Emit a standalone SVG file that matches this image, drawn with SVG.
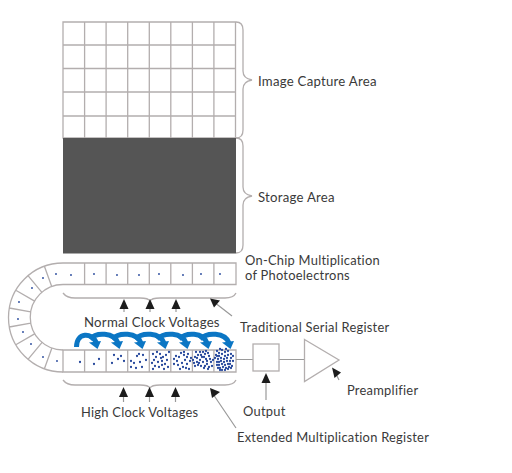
<svg xmlns="http://www.w3.org/2000/svg" width="512" height="473" viewBox="0 0 512 473">
<style>
.g{fill:none;stroke:#b3aeae;stroke-width:1.3}
.l{fill:none;stroke:#9a9a9a;stroke-width:1.2}
.k{fill:#1c1c1c}
.d{fill:none;stroke:#2b4c9e;stroke-width:2.3;stroke-linecap:round}
.b{fill:none;stroke:#0b76c4;stroke-width:5}
.h{fill:#0b76c4}
text{font-family:Lato,"Open Sans",sans-serif;font-size:12.9px;fill:#3a3a3a;letter-spacing:.25px}
</style>
<defs>
<path id="a" d="M0 0L-4.500 10H4.500Z" class="k"/>
</defs>
<rect width="512" height="473" fill="#fff"/>
<g id="image-capture-area">
<path class="g" d="M63 22H235.500V138H63ZM84.600 22V138M106.100 22V138M127.700 22V138M149.300 22V138M170.800 22V138M192.400 22V138M213.900 22V138M63 45H235.500M63 68.500H235.500M63 92H235.500M63 116H235.500"/>
<path class="g" d="M236 22C241 22 243 25 243 30V71C243 76 246 79 252 80C246 81 243 84 243 89V130C243 135 241 138 236 138"/>
<text x="258" y="86" style="font-size:13.2px">Image Capture Area</text>
</g>
<g id="storage-area">
<rect x="63" y="138" width="173" height="115.500" fill="#555"/>
<path class="g" d="M236 138C241 138 243 141 243 146V187C243 192 246 195 252 196C246 197 243 200 243 205V245C243 250 241 253 236 253"/>
<text x="258" y="202" style="font-size:13.2px">Storage Area</text>
</g>
<g id="multiplication-register">
<path class="g" d="M63 263H236V284.500H63M84.600 263V284.500M106.100 263V284.500M127.700 263V284.500M149.300 263V284.500M170.800 263V284.500M192.400 263V284.500M213.900 263V284.500"/>
<path class="g" d="M63 263A54.500 54.500 0 0 0 63 372M63 284.500A32.750 32.750 0 0 0 63 350M51.800 286.700L44.400 266.300M41.900 292.400L28 275.700M34.600 301.100L15.800 290.200M30.700 311.800L9.300 308M30.700 323.200L9.300 327M34.600 333.900L15.800 344.800M41.900 342.600L28 359.300M51.800 348.300L44.400 368.700"/>
<path class="g" d="M63 350H236V372H63ZM84.600 350V372M106.100 350V372M127.700 350V372M149.300 350V372M170.800 350V372M192.400 350V372M213.900 350V372"/>
<path class="d" style="stroke-width:1.9" d="M71 275h0M94 274h0M117 275h0M139 275h0M159 274h0M183 275h0M201 274h0M220 274h0M56 274h0M43 278h0M32 288h0M19 302h0M18 319h0M23 332h0M31 344h0M43 357h0M57 361h0"/>
<path class="d" d="M80 362h0M94 364h0M99 359h0M112 363h0M118 359h0M121 356h0M124 361h0M114 355h0M131 367h0M134 363h0M137 356h0M140 362h0M136 368h0M143 355h0M146 360h0M142 367h0M131 361h0M139 354h0
M153 354h0M156 357h0M160 354h0M163 357h0M166 355h0M154 360h0M158 362h0M162 361h0M165 364h0M155 366h0M159 367h0M164 369h0M168 367h0M152 363h0M167 360h0M157 352h0M161 358h0M169 352h0M153 369h0M162 365h0
M174 359h0M177 361h0M181 353h0M184 355h0M187 357h0M179 357h0M185 360h0M182 363h0M187 364h0M178 365h0M183 367h0M189 369h0M176 356h0M190 361h0M186 368h0M180 369h0M174 364h0M188 354h0M191 358h0M184 352h0
M193 360h0M195 357h0M197 362h0M198 355h0M200 352h0M202 357h0M203 362h0M205 354h0M206 359h0M207 364h0M209 356h0M201 366h0M204 368h0M208 369h0M211 362h0M212 366h0M197 358h0M200 360h0M203 352h0M206 351h0M208 353h0M210 359h0M213 360h0M215 358h0M217 356h0M198 365h0M194 363h0M201 355h0M205 366h0M209 367h0M196 352h0M199 363h0M204 357h0M207 361h0M195 366h0
M217 351h0M219 353h0M222 350h0M225 352h0M228 351h0M231 354h0M216 355h0M219 356h0M222 354h0M225 356h0M228 355h0M231 358h0M233 361h0M218 359h0M221 358h0M224 359h0M227 358h0M230 361h0M217 362h0M219 362h0M221 361h0M224 362h0M227 361h0M230 364h0M232 366h0M217 365h0M219 365h0M222 364h0M225 365h0M228 364h0M218 368h0M220 368h0M223 367h0M226 368h0M229 367h0M220 370h0M222 370h0M225 370h0M228 369h0M233 356h0M220 349h0M226 349h0M231 368h0"/>
</g>
<g id="connectors">
<path class="b" d="M76.500 347C76.500 332 92 332 96.500 343"/><path class="h" d="M89 342.500L101 341L97.500 349Z"/>
<path class="b" d="M90 339C96 332 114 332 118 343"/><path class="h" d="M111 342.500L123 341L119.500 349Z"/>
<path class="b" d="M112 339C119 332 137 332 141 343"/><path class="h" d="M134 342.500L146 341L142.500 349Z"/>
<path class="b" d="M135 339C142 332 160 332 164 343"/><path class="h" d="M157 342.500L169 341L165.500 349Z"/>
<path class="b" d="M157 339C164 332 182 332 186 343"/><path class="h" d="M179 342.500L191 341L187.500 349Z"/>
<path class="b" d="M179 339C186 332 203 332 207 343"/><path class="h" d="M200 342.500L212 341L208.500 349Z"/>
<path class="b" d="M200 339C207 332 225 332 229 343"/><path class="h" d="M222 342.500L234 341L230.500 349Z"/>
<path class="l" d="M236 359.500H253M279 359.500H304.500"/>
<path class="g" d="M63 293C66 297 70 298 75 298H140C146 298 149 299 150 301C151 299 154 298 160 298H225C230 298 234 297 236 293"/>
<path class="g" d="M63 380C66 384 70 385 75 385H140C146 385 149 386 150 388C151 386 154 385 160 385H225C230 385 234 384 236 380"/>
<path class="l" d="M124 306V312M150 306V312M176 306V312M214 302L232 316M123.500 395V402M149.500 395V402M175.500 395V402M213 394L236 428M266 381V400M335 372L339 380"/>
<use href="#a" x="124" y="299"/><use href="#a" x="150" y="299"/><use href="#a" x="176" y="299"/>
<use href="#a" x="123.500" y="387"/><use href="#a" x="149.500" y="387"/><use href="#a" x="175.500" y="387"/>
<use href="#a" x="266" y="373"/>
<path class="k" d="M210 298.500L220 300.500L214 307.500Z"/>
<path class="k" d="M210 388L220 392L212 398Z"/>
<path class="k" d="M332 367.500L341 372.500L334.500 378Z"/>
</g>
<g id="labels">
<text x="245" y="265">On-Chip Multiplication</text>
<text x="245" y="280">of Photoelectrons</text>
<text x="84" y="327" style="font-size:13.2px">Normal Clock Voltages</text>
<text x="240" y="332">Traditional Serial Register</text>
<text x="81" y="417">High Clock Voltages</text>
<text x="237" y="442">Extended Multiplication Register</text>
</g>
<g id="output"><rect class="g" x="253" y="344" width="26" height="27"/><text x="243" y="416">Output</text></g>
<g id="preamplifier"><path class="g" d="M304.500 339.500L339 360L304.500 381.500Z"/><text x="347" y="395">Preamplifier</text></g>
</svg>
